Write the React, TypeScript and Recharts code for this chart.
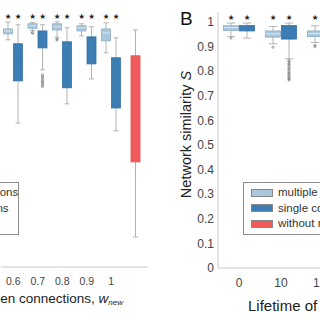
import React from "react"
import { Bar, ComposedChart, Customized, Legend, XAxis, YAxis } from "recharts"

const FONT = "'Liberation Sans', Arial, sans-serif"
const FRAME = "#c9c9c9"
const WHISKER = "#b3b3b3"
const TEXT = "#333"

const SERIES_KEYS = ["multiple", "single", "without"]
const SERIES_NAMES = ["multiple connections", "single connections", "without rewiring"]
const SERIES_FILLS = ["#a9c7dd", "#3c7db3", "#f15a5a"]
const SERIES_STROKES = ["#8aaac4", "#3572a5", "#e84e4e"]
const SERIES_MEDIANS = ["#d9e6f0", "#3c7db3", "#f15a5a"]
const SERIES_STARRED = [true, true, false]

const Y_DOMAIN = [0, 1.04]
const Y_TICKS = [0, 0.1, 0.2, 0.3, 0.4, 0.5, 0.6, 0.7, 0.8, 0.9, 1]
const STAR_LEVEL = 1.018

// panel A, each box is [low whisker, q1, median, q3, high whisker]
const A_CATEGORIES = ["0.6", "0.7", "0.8", "0.9", "1", ""]
const A_MULTIPLE = [
  [0.923, 0.947, 0.959, 0.967, 0.995],
  [0.961, 0.97, 0.98, 0.988, 0.994],
  [0.933, 0.963, 0.976, 0.988, 0.996],
  [0.939, 0.959, 0.972, 0.98, 0.988],
  [0.87, 0.919, 0.951, 0.967, 0.992],
  null,
]
const A_MULTIPLE_OUT = [[], [0.953, 0.95], [0.926, 0.922], [], [], []]
const A_SINGLE = [
  [0.585, 0.756, 0.85, 0.907, 0.984],
  [0.801, 0.89, 0.93, 0.959, 0.984],
  [0.663, 0.728, 0.83, 0.915, 0.972],
  [0.764, 0.825, 0.88, 0.935, 0.976],
  [0.553, 0.646, 0.75, 0.85, 0.931],
  null,
]
const A_SINGLE_OUT = [[], [0.781, 0.774, 0.768, 0.759, 0.752, 0.747, 0.739, 0.733], [], [], [], []]
const A_WITHOUT = [null, null, null, null, null, [0.122, 0.427, 0.65, 0.858, 0.963]]
const A_WITHOUT_OUT = [[], [], [], [], [], []]

// panel B
const B_CATEGORIES = ["0", "10", "100"]
const B_MULTIPLE = [
  [0.94, 0.965, 0.977, 0.984, 0.995],
  [0.911, 0.938, 0.951, 0.963, 0.981],
  [0.916, 0.94, 0.952, 0.963, 0.984],
]
const B_MULTIPLE_OUT = [[0.934], [0.897], [0.905, 0.899]]
const B_SINGLE = [
  [0.934, 0.963, 0.976, 0.985, 0.995],
  [0.85, 0.93, 0.965, 0.985, 0.995],
  [0.86, 0.935, 0.962, 0.983, 0.994],
]
const B_SINGLE_OUT = [
  [],
  [0.843, 0.838, 0.83, 0.826, 0.819, 0.811, 0.806, 0.797, 0.792, 0.785, 0.779, 0.772, 0.768, 0.764],
  [],
]

type Box = { lo: number; q1: number; med: number; q3: number; hi: number; out: number[] }

const toBox = (s: number[] | null, out: number[]): Box | null =>
  s ? { lo: s[0], q1: s[1], med: s[2], q3: s[3], hi: s[4], out } : null

function buildRows(categories: string[], series: [(number[] | null)[], number[][]][]) {
  return categories.map((cat, i) => {
    const row: Record<string, any> = { cat }
    series.forEach(([stats, outs], k) => {
      row[SERIES_KEYS[k]] = toBox(stats[i], outs[i])
    })
    return row
  })
}

const dataA = buildRows(A_CATEGORIES, [
  [A_MULTIPLE, A_MULTIPLE_OUT],
  [A_SINGLE, A_SINGLE_OUT],
  [A_WITHOUT, A_WITHOUT_OUT],
])
const dataB = buildRows(B_CATEGORIES, [
  [B_MULTIPLE, B_MULTIPLE_OUT],
  [B_SINGLE, B_SINGLE_OUT],
])

const boxRange = (key: string) => (row: any) => {
  const b: Box | null = row[key]
  if (!b) return null
  return [Math.min(b.lo, ...b.out), Math.max(b.hi, ...b.out)]
}

const boxShape = (key: string, i: number) => (props: any) => {
  const { x, y, width, height, payload } = props
  const b: Box | null = payload ? payload[key] : null
  const r = payload ? boxRange(key)(payload) : null
  if (!b || !r || !height) return <g />
  const [lo, hi] = r
  // map a value to pixels from the bar rectangle the library computed
  const px = (v: number) => y + ((hi - v) / (hi - lo)) * height
  const cx = x + width / 2
  const cap = width * 0.25
  return (
    <g>
      <line x1={cx} x2={cx} y1={px(b.hi)} y2={px(b.q3)} stroke={WHISKER} />
      <line x1={cx} x2={cx} y1={px(b.q1)} y2={px(b.lo)} stroke={WHISKER} />
      <line x1={cx - cap} x2={cx + cap} y1={px(b.hi)} y2={px(b.hi)} stroke={WHISKER} />
      <line x1={cx - cap} x2={cx + cap} y1={px(b.lo)} y2={px(b.lo)} stroke={WHISKER} />
      <rect
        x={x + 0.5}
        y={px(b.q3)}
        width={width - 1}
        height={Math.max(px(b.q1) - px(b.q3), 1)}
        fill={SERIES_FILLS[i]}
        stroke={SERIES_STROKES[i]}
        strokeWidth={0.8}
      />
      <line x1={x + 1} x2={x + width - 1} y1={px(b.med)} y2={px(b.med)} stroke={SERIES_MEDIANS[i]} />
      {b.out.map((v, j) => (
        <circle key={j} cx={cx} cy={px(v)} r={1.1} fill="none" stroke="#777" strokeWidth={0.7} />
      ))}
      {SERIES_STARRED[i] && (
        <text x={cx} y={px(STAR_LEVEL)} textAnchor="middle" dominantBaseline="central" fontSize={7.5} fontFamily="DejaVu Sans" fill="#222">
          ★
        </text>
      )}
    </g>
  )
}

function LegendBox() {
  return (
    <div
      style={{
        border: "1px solid #8c8c8c",
        background: "#fff",
        width: 140,
        height: 53,
        padding: "2px 0 0 0",
        boxSizing: "border-box",
        fontFamily: FONT,
        fontSize: 11.5,
        color: TEXT,
      }}
    >
      {SERIES_NAMES.map((name, i) => (
        <div key={name} style={{ display: "flex", alignItems: "center", height: 15.5 }}>
          <span
            style={{
              marginLeft: 7,
              width: 22,
              height: 8,
              background: SERIES_FILLS[i],
              border: "1px solid #888",
              boxSizing: "border-box",
              flex: "none",
            }}
          />
          <span style={{ marginLeft: 5, whiteSpace: "nowrap", lineHeight: "15px" }}>{name}</span>
        </div>
      ))}
    </div>
  )
}

function TitleA() {
  return (
    <text x={123} y={303} textAnchor="end" fontFamily={FONT} fontSize={13.5} fill="#222">
      Weight of hidden connections,{" "}
      <tspan fontStyle="italic">w</tspan>
      <tspan fontStyle="italic" fontSize={8} dy={2}>new</tspan>
    </text>
  )
}

function TitleB() {
  return (
    <text x={98} y={311} fontFamily={FONT} fontSize={15} fill="#222">
      Lifetime of hidden connections
    </text>
  )
}

function YTitleB() {
  return (
    <text x={41} y={134.5} transform="rotate(-90, 41, 134.5)" textAnchor="middle" fontFamily={FONT} fontSize={14.5} fill="#222">
      Network similarity <tspan fontStyle="italic">S</tspan>
    </text>
  )
}

function PanelLetter() {
  return (
    <text x={30} y={25} fontFamily={FONT} fontSize={19} fill="#111">
      B
    </text>
  )
}

function PanelA() {
  return (
    <ComposedChart width={152} height={320} data={dataA} barGap={0} margin={{ top: 11, right: 4, left: 1, bottom: 13 }}>
      <XAxis
        dataKey="cat"
        height={40}
        axisLine={{ stroke: FRAME }}
        tickLine={false}
        tickSize={9}
        tickMargin={2}
        interval={0}
        tick={{ fill: "#444", fontSize: 10.5, fontFamily: FONT }}
        label={<TitleA />}
      />
      <XAxis xAxisId="top" dataKey="cat" orientation="top" height={0} tick={false} tickLine={false} axisLine={{ stroke: FRAME }} />
      <XAxis xAxisId="red" dataKey="cat" hide />
      <YAxis domain={Y_DOMAIN} ticks={Y_TICKS} hide />
      <YAxis yAxisId="right" orientation="right" domain={Y_DOMAIN} width={0} tick={false} tickLine={false} axisLine={{ stroke: FRAME }} />
      <Bar dataKey={boxRange("multiple")} name={SERIES_NAMES[0]} fill={SERIES_FILLS[0]} barSize={10} shape={boxShape("multiple", 0)} isAnimationActive={false} />
      <Bar dataKey={boxRange("single")} name={SERIES_NAMES[1]} fill={SERIES_FILLS[1]} barSize={10} shape={boxShape("single", 1)} isAnimationActive={false} />
      <Bar xAxisId="red" dataKey={boxRange("without")} name={SERIES_NAMES[2]} fill={SERIES_FILLS[2]} barSize={10} shape={boxShape("without", 2)} isAnimationActive={false} />
      <Legend layout="vertical" align="center" verticalAlign="middle" wrapperStyle={{ left: -121, top: 182, width: 140 }} content={() => <LegendBox />} />
    </ComposedChart>
  )
}

function PanelB() {
  return (
    <ComposedChart width={198} height={320} data={dataB} barGap={0} margin={{ top: 12, right: 4, left: 0, bottom: 12 }}>
      <XAxis
        dataKey="cat"
        height={40}
        axisLine={{ stroke: FRAME }}
        tickLine={false}
        tickSize={8}
        tickMargin={2}
        interval={0}
        tick={{ fill: "#444", fontSize: 12, fontFamily: FONT }}
        label={<TitleB />}
      />
      <XAxis xAxisId="top" dataKey="cat" orientation="top" height={0} tick={false} tickLine={false} axisLine={{ stroke: FRAME }} />
      <YAxis
        domain={Y_DOMAIN}
        ticks={Y_TICKS}
        width={68}
        axisLine={{ stroke: FRAME }}
        tickLine={false}
        tickSize={2}
        tickMargin={2}
        tick={{ fill: "#444", fontSize: 12, fontFamily: FONT }}
        label={<YTitleB />}
      />
      <Bar dataKey={boxRange("multiple")} name={SERIES_NAMES[0]} fill={SERIES_FILLS[0]} barSize={16} shape={boxShape("multiple", 0)} isAnimationActive={false} />
      <Bar dataKey={boxRange("single")} name={SERIES_NAMES[1]} fill={SERIES_FILLS[1]} barSize={16} shape={boxShape("single", 1)} isAnimationActive={false} />
      <Legend layout="vertical" align="center" verticalAlign="middle" wrapperStyle={{ left: 93, top: 182, width: 140 }} content={() => <LegendBox />} />
      <Customized component={PanelLetter} />
    </ComposedChart>
  )
}

export default function App() {
  return (
    <div style={{ position: "fixed", left: 0, top: 0, width: 320, height: 320, overflow: "hidden", background: "#fff" }}>
      <div style={{ position: "absolute", left: 0, top: 0 }}>
        <PanelA />
      </div>
      <div style={{ position: "absolute", left: 150, top: 0 }}>
        <PanelB />
      </div>
    </div>
  )
}
